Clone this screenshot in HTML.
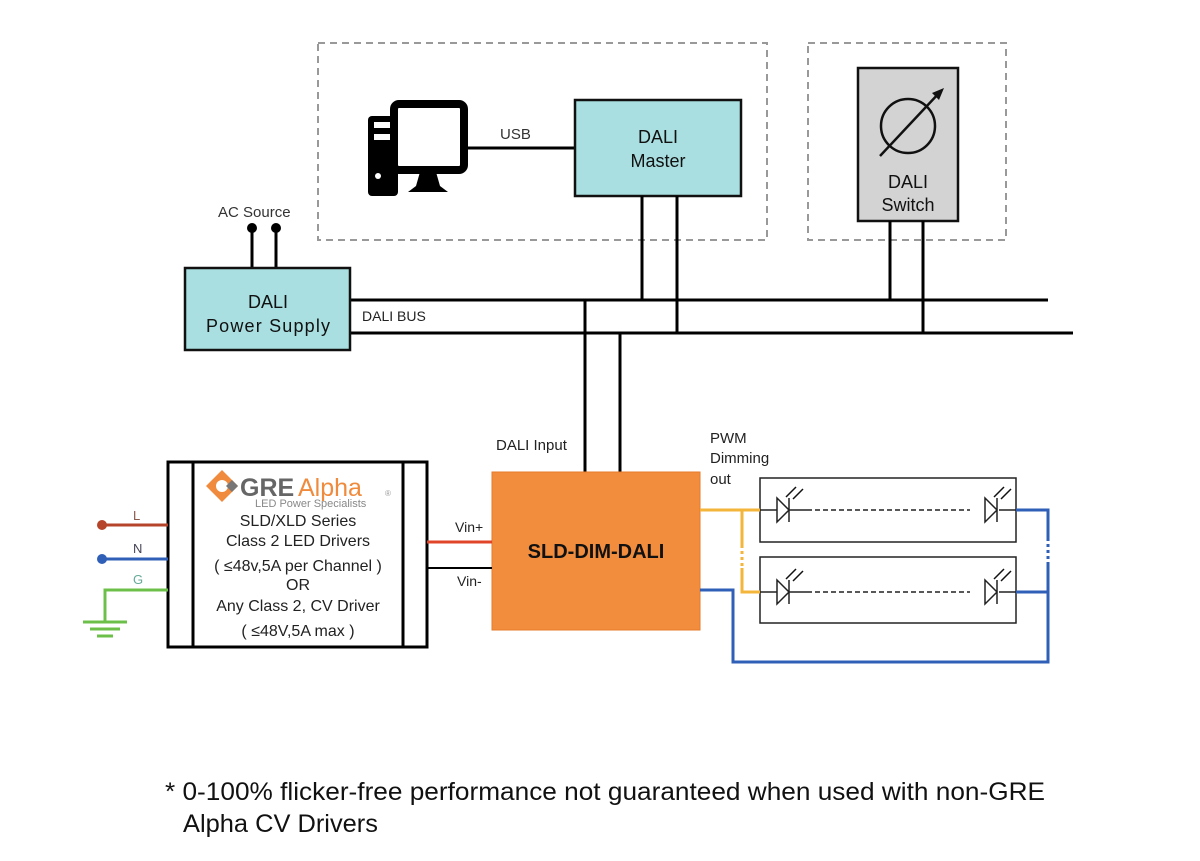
<!DOCTYPE html>
<html><head><style>
body{margin:0;background:#fff;}
svg text{font-family:"Liberation Sans",sans-serif;}
</style></head><body>
<svg width="1200" height="856" viewBox="0 0 1200 856" xmlns="http://www.w3.org/2000/svg">
<rect width="1200" height="856" fill="#fff"/>
<rect x="318" y="43" width="449" height="197" fill="none" stroke="#999" stroke-width="2" stroke-dasharray="7,5"/>
<rect x="808" y="43" width="198" height="197" fill="none" stroke="#999" stroke-width="2" stroke-dasharray="7,5"/>
<rect x="394" y="104" width="70" height="66" rx="5" fill="none" stroke="#000" stroke-width="8"/>
<rect x="368" y="116" width="30" height="80" rx="4" fill="#000"/>
<rect x="374" y="122" width="16" height="6" fill="#fff"/>
<rect x="374" y="134" width="16" height="6" fill="#fff"/>
<circle cx="378" cy="176" r="3" fill="#fff"/>
<path d="M420 172 L436 172 L440 186 L448 192 L408 192 L416 186 Z" fill="#000"/>
<line x1="468" y1="148" x2="576" y2="148" stroke="#000" stroke-width="3"/>
<text x="500" y="139" font-size="15" fill="#333">USB</text>
<rect x="575" y="100" width="166" height="96" fill="#a9dfe0" stroke="#111" stroke-width="2.5"/>
<text x="658" y="143" font-size="18" text-anchor="middle" fill="#111">DALI</text>
<text x="658" y="167" font-size="18" text-anchor="middle" fill="#111">Master</text>
<rect x="858" y="68" width="100" height="153" fill="#d3d3d3" stroke="#111" stroke-width="2.5"/>
<circle cx="908" cy="126" r="27" fill="none" stroke="#111" stroke-width="2.5"/>
<line x1="880" y1="156" x2="940" y2="92" stroke="#111" stroke-width="2.5"/>
<path d="M944 88 L932 93 L939 100 Z" fill="#111"/>
<text x="908" y="188" font-size="18" text-anchor="middle" fill="#111">DALI</text>
<text x="908" y="211" font-size="18" text-anchor="middle" fill="#111">Switch</text>
<g stroke="#000" stroke-width="3">
<line x1="350" y1="300" x2="1048" y2="300"/>
<line x1="350" y1="333" x2="1073" y2="333"/>
<line x1="642" y1="196" x2="642" y2="300"/>
<line x1="677" y1="196" x2="677" y2="333"/>
<line x1="890" y1="221" x2="890" y2="300"/>
<line x1="923" y1="221" x2="923" y2="333"/>
<line x1="585" y1="300" x2="585" y2="472"/>
<line x1="620" y1="333" x2="620" y2="472"/>
<line x1="252" y1="228" x2="252" y2="268"/>
<line x1="276" y1="228" x2="276" y2="268"/>
</g>
<circle cx="252" cy="228" r="5" fill="#000"/>
<circle cx="276" cy="228" r="5" fill="#000"/>
<text x="218" y="217" font-size="15" fill="#333">AC Source</text>
<text x="362" y="321" font-size="14" fill="#222">DALI BUS</text>
<rect x="185" y="268" width="165" height="82" fill="#a9dfe0" stroke="#111" stroke-width="2.5"/>
<text x="268" y="308" font-size="18" text-anchor="middle" fill="#111">DALI</text>
<text x="268" y="332" font-size="18" text-anchor="middle" fill="#111" textLength="124">Power Supply</text>
<text x="496" y="450" font-size="15" fill="#222">DALI Input</text>
<rect x="492" y="472" width="208" height="158" fill="#f28d3e" stroke="#e57a2a" stroke-width="1"/>
<text x="596" y="558" font-size="20" font-weight="bold" text-anchor="middle" fill="#111">SLD-DIM-DALI</text>
<rect x="168" y="462" width="259" height="185" fill="#fff" stroke="#000" stroke-width="3"/>
<line x1="193" y1="462" x2="193" y2="647" stroke="#000" stroke-width="3"/>
<line x1="403" y1="462" x2="403" y2="647" stroke="#000" stroke-width="3"/>
<path d="M222 470 L238 486 L222 502 L206 486 Z" fill="#f08a3c"/>
<circle cx="222" cy="486" r="6" fill="#fff"/>
<path d="M232 480 L238 486 L232 492 L226 486 Z" fill="#777"/>
<text x="240" y="496" font-size="25" font-weight="bold" fill="#666">GRE</text>
<text x="298" y="496" font-size="25" fill="#f08a3c">Alpha</text>
<text x="385" y="496" font-size="8" fill="#999">®</text>
<text x="255" y="507" font-size="11" fill="#888">LED Power Specialists</text>
<g font-size="16" fill="#222" text-anchor="middle">
<text x="298" y="526">SLD/XLD Series</text>
<text x="298" y="546">Class 2 LED Drivers</text>
<text x="298" y="571">( ≤48v,5A per Channel )</text>
<text x="298" y="590">OR</text>
<text x="298" y="611">Any Class 2, CV Driver</text>
<text x="298" y="636">( ≤48V,5A max )</text>
</g>
<line x1="102" y1="525" x2="168" y2="525" stroke="#b5442a" stroke-width="3"/>
<circle cx="102" cy="525" r="5" fill="#b5442a"/>
<text x="133" y="520" font-size="13" fill="#8a5a4a">L</text>
<line x1="102" y1="559" x2="168" y2="559" stroke="#2f5fb7" stroke-width="3"/>
<circle cx="102" cy="559" r="5" fill="#2f5fb7"/>
<text x="133" y="553" font-size="13" fill="#445">N</text>
<path d="M168 590 L105 590 L105 622" fill="none" stroke="#6cc04a" stroke-width="3"/>
<text x="133" y="584" font-size="13" fill="#6a9">G</text>
<line x1="83" y1="622" x2="127" y2="622" stroke="#6cc04a" stroke-width="3"/>
<line x1="90" y1="629" x2="120" y2="629" stroke="#6cc04a" stroke-width="3"/>
<line x1="97" y1="636" x2="113" y2="636" stroke="#6cc04a" stroke-width="3"/>
<line x1="427" y1="542" x2="492" y2="542" stroke="#e0452a" stroke-width="3"/>
<line x1="427" y1="568" x2="492" y2="568" stroke="#000" stroke-width="2"/>
<text x="455" y="532" font-size="14" fill="#222">Vin+</text>
<text x="457" y="586" font-size="14" fill="#222">Vin-</text>
<text x="710" y="443" font-size="15" fill="#222">PWM</text>
<text x="710" y="463" font-size="15" fill="#222">Dimming</text>
<text x="710" y="484" font-size="15" fill="#222">out</text>
<rect x="760" y="478" width="256" height="64" fill="#fff" stroke="#222" stroke-width="1.5"/>
<rect x="760" y="557" width="256" height="66" fill="#fff" stroke="#222" stroke-width="1.5"/>
<g stroke="#222" stroke-width="1.5" fill="none">
<line x1="760" y1="510" x2="777" y2="510"/><line x1="789" y1="510" x2="807" y2="510"/>
<line x1="807" y1="510" x2="970" y2="510" stroke-dasharray="5,3"/>
<line x1="999" y1="510" x2="1016" y2="510"/>
<line x1="760" y1="592" x2="777" y2="592"/><line x1="789" y1="592" x2="807" y2="592"/>
<line x1="807" y1="592" x2="970" y2="592" stroke-dasharray="5,3"/>
<line x1="999" y1="592" x2="1016" y2="592"/>
<path d="M777 498 L777 522 L789 510 Z M789 498 L789 522"/>
<path d="M985 498 L985 522 L997 510 Z M997 498 L997 522"/>
<path d="M777 580 L777 604 L789 592 Z M789 580 L789 604"/>
<path d="M985 580 L985 604 L997 592 Z M997 580 L997 604"/>
</g>
<g stroke="#111" stroke-width="1.5">
<line x1="786" y1="497" x2="796" y2="487"/><line x1="793" y1="499" x2="803" y2="489"/>
<line x1="994" y1="497" x2="1004" y2="487"/><line x1="1001" y1="499" x2="1011" y2="489"/>
<line x1="786" y1="579" x2="796" y2="569"/><line x1="793" y1="581" x2="803" y2="571"/>
<line x1="994" y1="579" x2="1004" y2="569"/><line x1="1001" y1="581" x2="1011" y2="571"/>
</g>
<g stroke="#f4b63a" stroke-width="3" fill="none">
<line x1="700" y1="510" x2="760" y2="510"/>
<line x1="742" y1="510" x2="742" y2="545"/>
<line x1="742" y1="545" x2="742" y2="568" stroke-dasharray="3,3"/>
<path d="M742 568 L742 592 L760 592"/>
</g>
<g stroke="#2f5fb7" stroke-width="3" fill="none">
<path d="M700 590 L733 590 L733 662 L1048 662 L1048 565"/>
<line x1="1048" y1="565" x2="1048" y2="538" stroke-dasharray="3,3"/>
<path d="M1048 538 L1048 510 L1016 510"/>
<line x1="1016" y1="592" x2="1048" y2="592"/>
</g>
<text x="165" y="800" font-size="25" fill="#111" textLength="880" lengthAdjust="spacingAndGlyphs">* 0-100% flicker-free performance not guaranteed when used with non-GRE</text>
<text x="183" y="832" font-size="25" fill="#111" textLength="195" lengthAdjust="spacingAndGlyphs">Alpha CV Drivers</text>
</svg>
</body></html>
